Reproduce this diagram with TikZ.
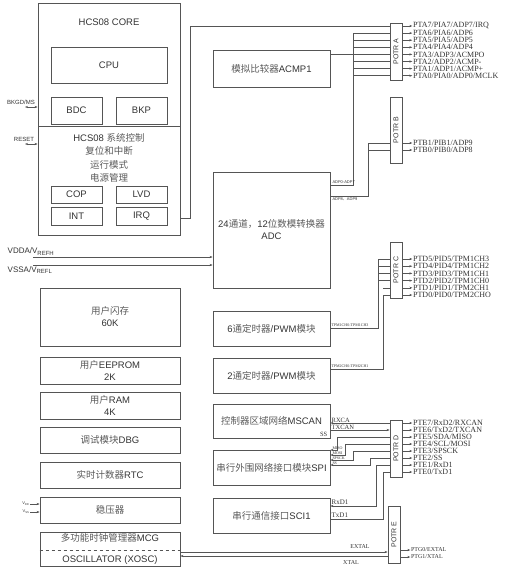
\documentclass[tikz,border=0pt]{standalone}
\usepackage{fontspec}
\setmainfont{Liberation Sans}
\newfontfamily\cjk{Noto Sans CJK SC}
\newfontfamily\pinfont{Liberation Serif}
\usetikzlibrary{arrows.meta, positioning, calc}
\definecolor{wire}{HTML}{555555}
\definecolor{txt}{HTML}{333333}
\definecolor{zhtxt}{HTML}{5A5A5A}
\newcommand{\zh}[1]{{\cjk\color{zhtxt}#1}}

\begin{document}
\begin{tikzpicture}[x=1pt, y=-1pt,
    >={Stealth[length=3pt,width=2.2pt]},
    blk/.style={draw=wire, line width=0.7pt, inner sep=0pt, align=center, text=txt,
        font=\fontsize{9.5}{12}\selectfont},
    modbox/.style={blk, minimum width=117pt, minimum height=35pt},
    memb/.style={blk, minimum width=140pt, minimum height=26pt},
    sub/.style={blk, minimum width=51pt},
    port/.style={draw=wire, line width=0.7pt, minimum width=12pt, minimum height=57pt, inner sep=0pt},
    portlbl/.style={rotate=90, font=\fontsize{7}{7}\selectfont, text=txt},
    bus/.style={draw=wire, line width=0.6pt},
    pin/.style={font=\pinfont\fontsize{8}{8}\selectfont, text=txt, inner sep=0.5pt, anchor=west},
    sig/.style={font=\pinfont\fontsize{6.5}{6.5}\selectfont, text=txt, inner sep=0.5pt},
    tiny/.style={font=\fontsize{4}{4}\selectfont, text=txt, inner sep=0.3pt},
    side/.style={font=\fontsize{6}{6}\selectfont, text=txt, inner sep=0.5pt}]

\useasboundingbox (0,0) rectangle (530,572);

% HCS08 core and system control
\node[blk, minimum width=142pt, minimum height=123pt] (core) at (109,64.5) {};
\node[blk, draw=none] (coretitle) at (109,22) {HCS08 CORE};
\node[blk, minimum width=116pt, minimum height=36pt] (cpu) at (109,65) {CPU};
\node[sub, minimum height=27pt] (bdc) at (76.5,110.5) {BDC};
\node[sub, minimum height=27pt] (bkp) at (141.5,110.5) {BKP};
\node[blk, minimum width=142pt, minimum height=109pt] (ctrl) at (109,180.5) {};
\node[blk, draw=none, font=\fontsize{9.5}{13.3}\selectfont] (ctrltxt) at (109,158)
    {HCS08 \zh{系统控制}\\\zh{复位和中断}\\\zh{运行模式}\\\zh{电源管理}};
\node[sub, minimum height=17pt] (cop) at (76.5,194.5) {COP};
\node[sub, minimum height=17pt] (lvd) at (141.5,194.5) {LVD};
\node[sub, minimum height=18pt] (int) at (76.5,216) {INT};
\node[sub, minimum height=18pt] (irq) at (141.5,216) {IRQ};

% memories and other modules on the left
\node[memb, minimum height=58pt] (flash) at (110,317) {\zh{用户闪存}\\60K};
\node[memb, minimum height=27pt] (eeprom) at (110,370.5) {\zh{用户}EEPROM\\2K};
\node[memb, minimum height=27pt] (ram) at (110,405.5) {\zh{用户}RAM\\4K};
\node[memb] (dbg) at (110,440) {\zh{调试模块}DBG};
\node[memb] (rtc) at (110,475) {\zh{实时计数器}RTC};
\node[memb] (vreg) at (110,510) {\zh{稳压器}};
\node[memb, minimum height=34pt] (mcg) at (110,549) {};
\node[blk, draw=none] (mcgtxt) at (110,538) {\zh{多功能时钟管理器}MCG};
\node[blk, draw=none] (osctxt) at (110,560) {OSCILLATOR (XOSC)};
\draw[bus, dashed] (mcg.west |- 0,550) -- (mcg.east |- 0,550);

% peripheral modules
\node[modbox, minimum height=37pt] (acmp) at (271.5,68.5) {\zh{模拟比较器}ACMP1};
\node[modbox, minimum height=116pt] (adc) at (271.5,230) {24\zh{通道，}12\zh{位数模转换器}\\ADC};
\node[modbox] (tpm6) at (271.5,328.5) {6\zh{通定时器}/PWM\zh{模块}};
\node[modbox] (tpm2) at (271.5,375.5) {2\zh{通定时器}/PWM\zh{模块}};
\node[modbox, minimum height=34pt] (mscan) at (271.5,421) {\zh{控制器区域网络}MSCAN};
\node[modbox] (spi) at (271.5,467.5) {\zh{串行外围网络接口模块}SPI};
\node[modbox] (sci) at (271.5,515.5) {\zh{串行通信接口}SCI1};

% ports
\node[port] (porta) at (396,51.5) {};
\node[port, minimum height=66pt] (portb) at (396,130) {};
\node[port, minimum height=56pt] (portc) at (396,270) {};
\node[port] (portd) at (396,448.5) {};
\node[port] (porte) at (394,534.5) {};
\node[portlbl] at (porta) {POTR A};
\node[portlbl] at (portb) {POTR B};
\node[portlbl] at (portc) {POTR C};
\node[portlbl] at (portd) {POTR D};
\node[portlbl] at (porte) {POTR E};

% pins
\foreach \lbl [count=\i from 0] in {PTA7/PIA7/ADP7/IRQ, PTA6/PIA6/ADP6, PTA5/PIA5/ADP5,
    PTA4/PIA4/ADP4, PTA3/ADP3/ACMPO, PTA2/ADP2/ACMP-, PTA1/ADP1/ACMP+, PTA0/PIA0/ADP0/MCLK} {
  \pgfmathsetmacro\yy{26+7.1*\i}
  \draw[bus,->] (porta.east |- 0,\yy) -- ++(10,0) node[pin] {\lbl};
}
\foreach \lbl [count=\i from 0] in {PTB1/PIB1/ADP9, PTB0/PIB0/ADP8} {
  \pgfmathsetmacro\yy{143+7*\i}
  \draw[bus,->] (portb.east |- 0,\yy) -- ++(10,0) node[pin] {\lbl};
}
\foreach \lbl [count=\i from 0] in {PTD5/PID5/TPM1CH3, PTD4/PID4/TPM1CH2, PTD3/PID3/TPM1CH1,
    PTD2/PID2/TPM1CH0, PTD1/PID1/TPM2CH1, PTD0/PID0/TPM2CHO} {
  \pgfmathsetmacro\yy{259+7.2*\i}
  \draw[bus,->] (portc.east |- 0,\yy) -- ++(10,0) node[pin] {\lbl};
}
\foreach \lbl [count=\i from 0] in {PTE7/RxD2/RXCAN, PTE6/TxD2/TXCAN, PTE5/SDA/MISO,
    PTE4/SCL/MOSI, PTE3/SPSCK, PTE2/SS, PTE1/RxD1, PTE0/TxD1} {
  \pgfmathsetmacro\yy{423+7*\i}
  \draw[bus,->] (portd.east |- 0,\yy) -- ++(10,0) node[pin] {\lbl};
}
\foreach \lbl [count=\i from 0] in {PTG0/EXTAL, PTG1/XTAL} {
  \pgfmathsetmacro\yy{550+7*\i}
  \draw[bus,->] (porte.east |- 0,\yy) -- ++(10,0) node[pin, font=\pinfont\fontsize{6}{6}\selectfont] {\lbl};
}

% port A: IRQ, ACMP and ADC channels
\draw[bus] (ctrl.east |- 0,218) -- (190,218) |- (porta.west |- 0,26);
\draw[bus] (adc.east |- 0,185) -| (353,33.1);
\foreach \i in {1,...,7} {
  \pgfmathsetmacro\yy{26+7.1*\i}
  \draw[bus] (353,\yy) -- (porta.west |- 0,\yy);
}
\draw[bus] (acmp.east |- 0,54.4) -- (porta.west |- 0,54.4);
\node[tiny, anchor=south west] (adplo) at (332,184) {ADP0-ADP7};

% port B: ADC channels 8, 9
\draw[bus] (adc.east |- 0,196) -| (368,143) -- (portb.west |- 0,143);
\draw[bus] (368,150) -- (portb.west |- 0,150);
\node[tiny, anchor=north west] (adphi) at (332,197) {ADP8\zh{、}ADP9};

% analog references
\coordinate (vdda) at (33,257);
\coordinate (vssa) at (33,265);
\draw[bus,->] (vdda) -- (vdda -| adc.west);
\draw[bus,->] (vssa) -- (vssa -| adc.west);
\node[font=\fontsize{8}{8}\selectfont, text=txt, anchor=south west, inner sep=0.5pt] at (7,256)
    {VDDA/V\textsubscript{REFH}};
\node[font=\fontsize{8}{8}\selectfont, text=txt, anchor=north west, inner sep=0.5pt] at (7,266)
    {VSSA/V\textsubscript{REFL}};

% port C: timers
\draw[bus] (tpm6.east |- 0,328) -| (378,259);
\foreach \i in {0,...,3} {
  \pgfmathsetmacro\yy{259+7.2*\i}
  \draw[bus] (378,\yy) -- (portc.west |- 0,\yy);
}
\draw[bus] (tpm2.east |- 0,369) -| (383,295);
\foreach \i in {4,5} {
  \pgfmathsetmacro\yy{259+7.2*\i}
  \draw[bus] (383,\yy) -- (portc.west |- 0,\yy);
}
\node[tiny, font=\pinfont\fontsize{4}{4}\selectfont, anchor=south west] at (331,327) {TPM1CH0-TPM1CH3};
\node[tiny, font=\pinfont\fontsize{4}{4}\selectfont, anchor=south west] at (331,368) {TPM2CH0-TPM2CH1};

% port D: MSCAN, SPI, SCI1
\draw[bus,<-] (mscan.east |- 0,423) -- (portd.west |- 0,423);
\draw[bus,->] (mscan.east |- 0,430) -- (portd.west |- 0,430);
\node[sig, anchor=south west] at (331,423) {RXCA};
\node[sig, anchor=south west] at (331,430) {TXCAN};
\node[sig, anchor=south east] at (328,437) {SS};

\draw[bus,<-] (spi.east |- 0,450) -| (337,437) -- (portd.west |- 0,437);
\draw[bus,<-] (spi.east |- 0,455) -| (345,444) -- (portd.west |- 0,444);
\draw[bus,<-] (spi.east |- 0,460) -| (353,451) -- (portd.west |- 0,451);
\draw[bus,<-] (spi.east |- 0,465) -| (370,458) -- (portd.west |- 0,458);
\node[tiny, font=\pinfont\fontsize{4}{4}\selectfont, anchor=south west] at (332,450) {MISO};
\node[tiny, font=\pinfont\fontsize{4}{4}\selectfont, anchor=south west] at (332,455) {MOSI};
\node[tiny, font=\pinfont\fontsize{4}{4}\selectfont, anchor=south west] at (332,460) {SPSCK};
\node[tiny, font=\pinfont\fontsize{4}{4}\selectfont, anchor=south west] at (332,465) {SS};

\draw[bus,<-] (sci.east |- 0,506) -| (376,465) -- (portd.west |- 0,465);
\draw[bus] (sci.east |- 0,519) -| (383,472) -- (portd.west |- 0,472);
\node[sig, font=\pinfont\fontsize{7}{7}\selectfont, anchor=south west] at (331,505) {RxD1};
\node[sig, font=\pinfont\fontsize{7}{7}\selectfont, anchor=south west] at (331,518) {TxD1};

% port E: oscillator
\draw[bus,->] (mcg.east |- 0,552) -- (porte.west |- 0,552);
\draw[bus,<-] (mcg.east |- 0,556) -- (porte.west |- 0,556);
\node[sig, font=\pinfont\fontsize{6}{6}\selectfont] at (360,547) {EXTAL};
\node[sig, font=\pinfont\fontsize{6}{6}\selectfont] at (351,563) {XTAL};

% debug, reset and supply pins
\coordinate (bkgd) at (25,107);
\coordinate (rst) at (25,144);
\draw[bus,<->] (bkgd) -- (bkgd -| core.west);
\draw[bus,<->] (rst) -- (rst -| ctrl.west);
\node[side, anchor=south] at (21,105) {BKGD/MS};
\node[side, anchor=south] at (24,142) {RESET};
\coordinate (vdd) at (30,504);
\coordinate (vss) at (30,512);
\draw[bus,->] (vdd) -- (vdd -| vreg.west);
\draw[bus,->] (vss) -- (vss -| vreg.west);
\node[tiny, anchor=east] at (vdd) {V\textsubscript{DD}};
\node[tiny, anchor=east] at (vss) {V\textsubscript{SS}};
\end{tikzpicture}
\end{document}
